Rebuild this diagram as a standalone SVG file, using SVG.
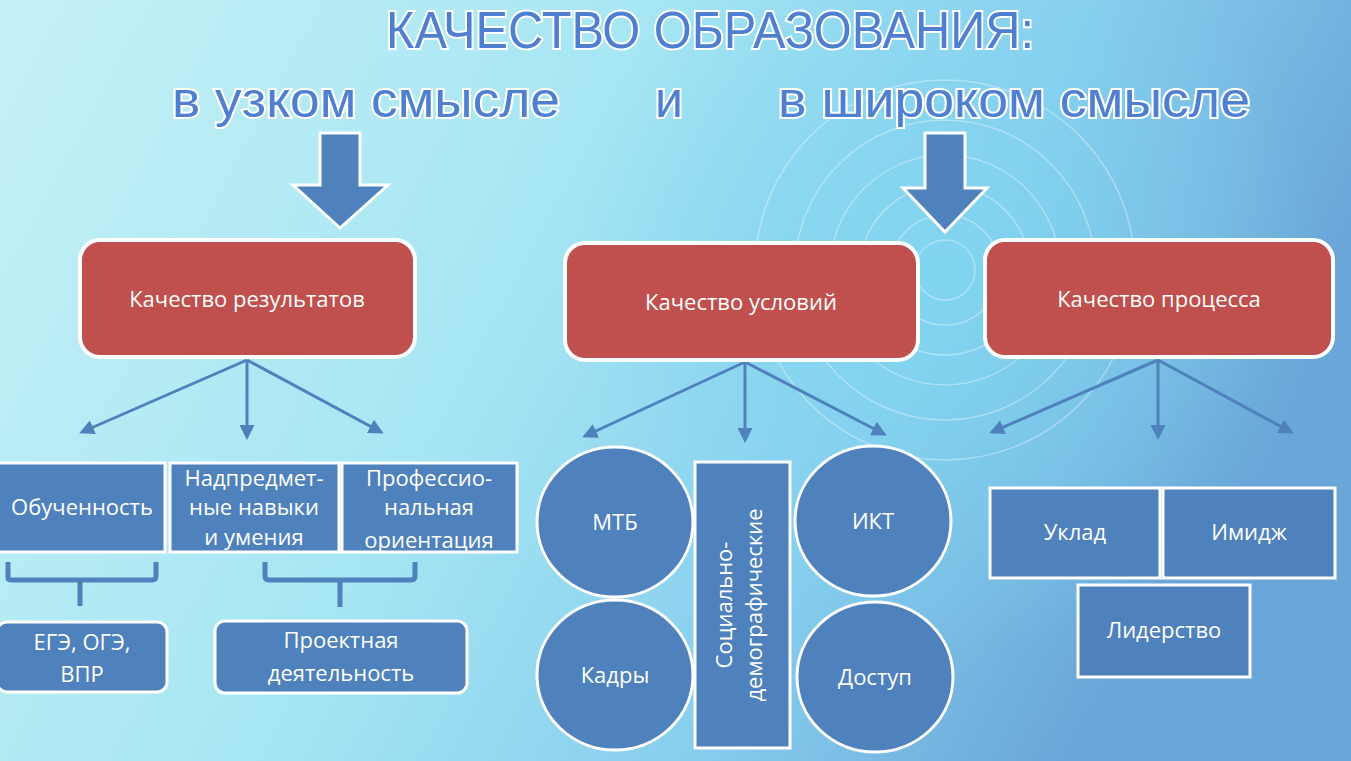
<svg xmlns="http://www.w3.org/2000/svg" width="1351" height="761" viewBox="0 0 1351 761">
<defs>
<linearGradient id="bg" x1="0" y1="0" x2="1" y2="0.3">
<stop offset="0" stop-color="#c6f0f6"/><stop offset="0.45" stop-color="#a6e6f3"/><stop offset="0.75" stop-color="#86cdee"/><stop offset="1" stop-color="#6aa6d8"/>
</linearGradient>
<radialGradient id="glow" cx="945" cy="280" r="380" gradientUnits="userSpaceOnUse">
<stop offset="0" stop-color="#7fd6f0" stop-opacity="0.8"/><stop offset="1" stop-color="#7fd6f0" stop-opacity="0"/>
</radialGradient>
<marker id="ah" viewBox="0 0 10 10" refX="8" refY="5" markerWidth="5" markerHeight="5" orient="auto"><path d="M0,0 L10,5 L0,10 z" fill="#4f81bd"/></marker>
<style>
.t{font-family:"Liberation Sans",Arial,sans-serif;fill:#4f7fd0;stroke:#fff;stroke-width:4;paint-order:stroke}
.red{fill:#c0504d;stroke:#fff;stroke-width:4}
.blue{fill:#4f81bd;stroke:#fff;stroke-width:3}
.lbl{font-family:"Open Sans","DejaVu Sans",sans-serif;font-size:22px;fill:#fff;text-anchor:middle}
.con{stroke:#4f81bd;stroke-width:3;fill:none;marker-end:url(#ah)}
.br{stroke:#4f81bd;stroke-width:5;fill:none;stroke-linejoin:round}
.ring{fill:none;stroke:#fff;stroke-opacity:0.35;stroke-width:1.5}
.big{fill:#4f81bd;stroke:#fff;stroke-width:3}
</style>
</defs>
<rect width="1351" height="761" fill="url(#bg)"/>
<rect width="1351" height="761" fill="url(#glow)"/>
<g>
<circle class="ring" cx="945" cy="270" r="30"/><circle class="ring" cx="945" cy="270" r="55"/><circle class="ring" cx="945" cy="270" r="85"/><circle class="ring" cx="945" cy="270" r="115"/><circle class="ring" cx="945" cy="270" r="150"/><circle class="ring" cx="945" cy="270" r="190"/>
</g>
<g id="title">
<text class="t" x="710" y="48" font-size="52" text-anchor="middle" textLength="648" lengthAdjust="spacingAndGlyphs">КАЧЕСТВО ОБРАЗОВАНИЯ:</text>
<text class="t" x="172" y="117" font-size="50" textLength="388" lengthAdjust="spacingAndGlyphs">в узком смысле</text>
<text class="t" x="655" y="117" font-size="50" textLength="28" lengthAdjust="spacingAndGlyphs">и</text>
<text class="t" x="778" y="117" font-size="50" textLength="472" lengthAdjust="spacingAndGlyphs">в широком смысле</text>
</g>
<g id="arrow-left"><path class="big" d="M320,133 H360 V185 H388 L340,228 L293,185 H320 Z"/></g>
<g id="arrow-right"><path class="big" d="M925,133 H965 V188 H987 L945,232 L903,188 H925 Z"/></g>
<g id="connectors">
<line class="con" x1="247" y1="360" x2="82" y2="432"/>
<line class="con" x1="247" y1="360" x2="247" y2="437"/>
<line class="con" x1="247" y1="360" x2="381" y2="432"/>
<line class="con" x1="745" y1="362" x2="585" y2="436"/>
<line class="con" x1="745" y1="362" x2="745" y2="440"/>
<line class="con" x1="745" y1="362" x2="884" y2="434"/>
<line class="con" x1="1158" y1="360" x2="992" y2="432"/>
<line class="con" x1="1158" y1="360" x2="1158" y2="437"/>
<line class="con" x1="1158" y1="360" x2="1291" y2="432"/>
<path class="br" d="M8,562 V578 Q8,580 12,580 H152 Q156,580 156,576 V562 M80,580 V606"/>
<path class="br" d="M265,562 V576 Q265,580 269,580 H411 Q415,580 415,576 V562 M340,580 V607"/>
</g>
<g id="n-results"><rect class="red" x="80" y="240" width="335" height="117" rx="20"/><text class="lbl" x="247" y="307">Качество результатов</text></g>
<g id="n-conditions"><rect class="red" x="565" y="243" width="353" height="117" rx="20"/><text class="lbl" x="741" y="310">Качество условий</text></g>
<g id="n-process"><rect class="red" x="985" y="240" width="348" height="117" rx="20"/><text class="lbl" x="1159" y="307">Качество процесса</text></g>
<g id="n-obuch"><rect class="blue" x="-3" y="463" width="168" height="89"/><text class="lbl" x="82" y="515">Обученность</text></g>
<g id="n-nadpred"><rect class="blue" x="170" y="463" width="169" height="89"/><text class="lbl" x="254" y="486">Надпредмет-</text><text class="lbl" x="254" y="515">ные навыки</text><text class="lbl" x="254" y="545">и умения</text></g>
<g id="n-prof"><rect class="blue" x="342" y="463" width="175" height="89"/><text class="lbl" x="429" y="486">Профессио-</text><text class="lbl" x="429" y="515">нальная</text><text class="lbl" x="429" y="548">ориентация</text></g>
<g id="n-ege"><rect class="blue" x="-3" y="622" width="170" height="70" rx="10"/><text class="lbl" x="82" y="650">ЕГЭ, ОГЭ,</text><text class="lbl" x="82" y="682">ВПР</text></g>
<g id="n-proekt"><rect class="blue" x="215" y="621" width="252" height="72" rx="10"/><text class="lbl" x="341" y="648">Проектная</text><text class="lbl" x="341" y="681">деятельность</text></g>
<g id="n-mtb"><ellipse class="blue" cx="615" cy="522" rx="78" ry="75"/><text class="lbl" x="615" y="530">МТБ</text></g>
<g id="n-kadry"><ellipse class="blue" cx="615" cy="675" rx="78" ry="75"/><text class="lbl" x="615" y="683">Кадры</text></g>
<g id="n-ikt"><ellipse class="blue" cx="873" cy="521" rx="78" ry="75"/><text class="lbl" x="873" y="529">ИКТ</text></g>
<g id="n-dostup"><ellipse class="blue" cx="875" cy="677" rx="78" ry="75"/><text class="lbl" x="875" y="685">Доступ</text></g>
<g id="n-social"><rect class="blue" x="695" y="462" width="95" height="286"/><text class="lbl" transform="translate(740,605) rotate(-90)"><tspan x="0" y="-8">Социально-</tspan><tspan x="0" y="22">демографические</tspan></text></g>
<g id="n-uklad"><rect class="blue" x="990" y="488" width="170" height="90"/><text class="lbl" x="1075" y="540">Уклад</text></g>
<g id="n-imidzh"><rect class="blue" x="1163" y="488" width="172" height="90"/><text class="lbl" x="1249" y="540">Имидж</text></g>
<g id="n-lider"><rect class="blue" x="1078" y="585" width="172" height="92"/><text class="lbl" x="1164" y="638">Лидерство</text></g>
</svg>
